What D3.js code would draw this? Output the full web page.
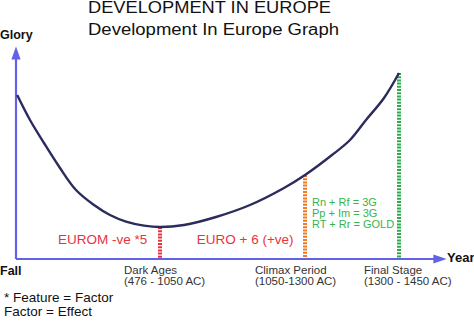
<!DOCTYPE html>
<html><head><meta charset="utf-8">
<script src="https://cdn.jsdelivr.net/npm/d3@7"></script>
<style>body{margin:0;background:#fff}svg{display:block;font-family:"Liberation Sans",Arial,sans-serif}</style>
</head><body>
<script>
// curve data (time index 0..100, glory 0..100)
const time  = [0.3, 3.5, 7, 11, 15, 19.5, 23.5, 27.5, 32, 36, 42, 50, 58.5, 67, 72.25, 79, 83.5, 87.5, 92, 95.75];
const glory = [82, 69.5, 58, 45.5, 34.5, 27, 22, 18.7, 16.7, 16, 17, 21, 27, 35.5, 42, 52, 59.5, 69.5, 80.5, 93];
// period markers
const periods = ["Dark Ages", "Climax Period", "Final Stage"];
const periodRanges = ["(476 - 1050 AC)", "(1050-1300 AC)", "(1300 - 1450 AC)"];
const periodTime = [36, 72.25, 95.75];
const periodGlory = [16, 42, 93];
const periodLabelStart = [27, 59.75, 87];
const markerColors = ["#e8333f", "#f07a22", "#2faa4c"];
const segmentTexts = ["EUROM -ve *5", "EURO + 6 (+ve)"];
const segmentTextStart = [10.5, 45.2];
const greenLines = ["Rn + Rf = 3G", "Pp + Im = 3G", "RT + Rr = GOLD"];

const W = 474, H = 336;
const svg = d3.select("body").append("svg").attr("width", W).attr("height", H);
const x = d3.scaleLinear().domain([0, 100]).range([16, 416]);
const y = d3.scaleLinear().domain([0, 100]).range([259, 59]);

const axisColor = "#6262e8";
const defs = svg.append("defs");
defs.append("marker").attr("id","arr").attr("viewBox","0 0 10 10").attr("refX",5).attr("refY",5)
  .attr("markerWidth",6).attr("markerHeight",6).attr("orient","auto")
  .append("path").attr("d","M0,1.5L10,5L0,8.5Z").attr("fill",axisColor);

// titles
svg.append("text").attr("x",88).attr("y",12.5).attr("font-size",16).attr("fill","#111")
  .attr("textLength",243).attr("lengthAdjust","spacingAndGlyphs").text("DEVELOPMENT IN EUROPE");
svg.append("text").attr("x",88).attr("y",35).attr("font-size",16).attr("fill","#111")
  .attr("textLength",251).attr("lengthAdjust","spacingAndGlyphs").text("Development In Europe Graph");

// axes
svg.append("line").attr("x1",x(0)).attr("y1",y(0)).attr("x2",x(0)).attr("y2",y(103))
  .attr("stroke",axisColor).attr("stroke-width",2.2).attr("marker-end","url(#arr)");
svg.append("line").attr("x1",x(0)).attr("y1",y(0)).attr("x2",x(106)).attr("y2",y(0))
  .attr("stroke",axisColor).attr("stroke-width",2.2).attr("marker-end","url(#arr)");

// vertical markers
periodTime.forEach((t,i)=>{
  svg.append("line").attr("x1",x(t)).attr("x2",x(t)).attr("y1",y(periodGlory[i])).attr("y2",y(0)-1)
    .attr("stroke",markerColors[i]).attr("stroke-width",4).attr("stroke-dasharray","2,1.2");
});

// curve
const line = d3.line().x((d,i)=>x(time[i])).y((d,i)=>y(glory[i])).curve(d3.curveCatmullRom.alpha(0.5));
svg.append("path").attr("d", line(time)).attr("fill","none").attr("stroke","#2b2b5e").attr("stroke-width",2.4);

// axis labels
svg.append("text").attr("x",0).attr("y",39).attr("font-size",12.5).attr("font-weight","bold").attr("fill","#111").text("Glory");
svg.append("text").attr("x",0).attr("y",275).attr("font-size",12.5).attr("font-weight","bold").attr("fill","#111").text("Fall");
svg.append("text").attr("x",447).attr("y",262).attr("font-size",13).attr("font-weight","bold").attr("fill","#111").text("Year");

// period labels
periods.forEach((p,i)=>{
  const g = svg.append("text").attr("font-size",11.5).attr("fill","#333");
  g.append("tspan").attr("x",x(periodLabelStart[i])).attr("y",y(0)+15).text(p);
  g.append("tspan").attr("x",x(periodLabelStart[i])).attr("y",y(0)+26).text(periodRanges[i]);
});

// segment texts
segmentTexts.forEach((t,i)=>{
  svg.append("text").attr("x",x(segmentTextStart[i])).attr("y",244).attr("font-size",13.5)
    .attr("fill","#e8333f").text(t);
});
greenLines.forEach((t,i)=>{
  svg.append("text").attr("x",x(74)).attr("y",206+i*11).attr("font-size",11)
    .attr("fill","#39b34a").text(t);
});

// footnote
svg.append("text").attr("x",4).attr("y",302).attr("font-size",13.5).attr("fill","#111").text("* Feature = Factor");
svg.append("text").attr("x",4).attr("y",316).attr("font-size",13.5).attr("fill","#111").text("Factor = Effect");
</script>
</body></html>
